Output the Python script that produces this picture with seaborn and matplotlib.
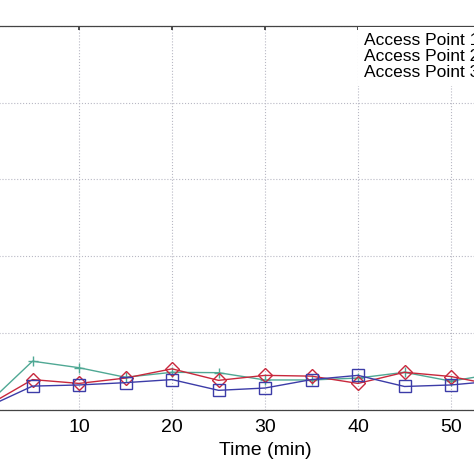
import numpy as np
import pandas as pd
import seaborn as sns
import matplotlib.pyplot as plt

# sample times (min)
time_min = [0, 5, 10, 15, 20, 25, 30, 35, 40, 45, 50, 55]

# series
ap1 = [1.1, 12.6, 10.9, 8.4, 9.7, 9.6, 7.7, 7.7, 8.2, 9.7, 7.4, 9.4]
ap2 = [0.8, 7.8, 6.8, 8.2, 10.6, 7.6, 8.9, 8.7, 6.8, 9.7, 8.6, 6.2]
ap3 = [0.5, 6.1, 6.4, 7.0, 7.8, 5.0, 5.6, 7.8, 8.9, 6.0, 6.4, 7.5]

labels = ["Access Point 1", "Access Point 2", "Access Point 3"]
xtick_vals = [0, 10, 20, 30, 40, 50, 60]
ytick_vals = [0, 20, 40, 60, 80, 100]

colors = ["#4fa894", "#c8283c", "#3c3ca8"]
markers = ["+", "D", "s"]
sizes = [7, 7, 8.5]

sns.set_theme(style="white")
plt.rcParams["font.family"] = ["Liberation Sans", "DejaVu Sans"]
plt.rcParams["text.color"] = "black"

df = pd.DataFrame({"time": time_min * 3,
                   "value": ap1 + ap2 + ap3,
                   "series": np.repeat(labels, len(time_min))})

fig = plt.figure(figsize=(4.74, 4.74), dpi=100)
# axes runs past the left and right edges, like the cropped original
ax = fig.add_axes([-14 / 474, (474 - 409.5) / 474, 558 / 474, 383.5 / 474])

for lab, col, mk, ms in zip(labels, colors, markers, sizes):
    sns.lineplot(data=df[df["series"] == lab], x="time", y="value", ax=ax,
                 color=col, marker=mk, markersize=ms, markerfacecolor="none",
                 markeredgecolor=col, markeredgewidth=1.0, linewidth=1.0,
                 label=lab)

ax.set_xlim(0, 60)
ax.set_ylim(0, 100)
ax.set_xticks(xtick_vals)
ax.set_yticks(ytick_vals)
ax.grid(True, linestyle=":", color="#b8b8c4", linewidth=0.8)
ax.tick_params(direction="in", length=3, top=True, right=True, labelsize=14,
               colors="#333333", labelcolor="black", pad=7)
for s in ax.spines.values():
    s.set_color("#444444")
    s.set_linewidth(0.9)
ax.set_xlabel("Time (min)", fontsize=14, labelpad=4, color="black")
ax.set_ylabel("")

leg = ax.legend(loc="upper left", bbox_to_anchor=(358 / 474, 1 - 27 / 474),
                bbox_transform=fig.transFigure, markerfirst=False,
                fancybox=False, edgecolor="none", facecolor="white",
                framealpha=1, fontsize=12.5, labelspacing=0.05,
                borderpad=0.35, handlelength=2.0, borderaxespad=0,
                labelcolor="black")

fig.savefig("out.png", dpi=100)
